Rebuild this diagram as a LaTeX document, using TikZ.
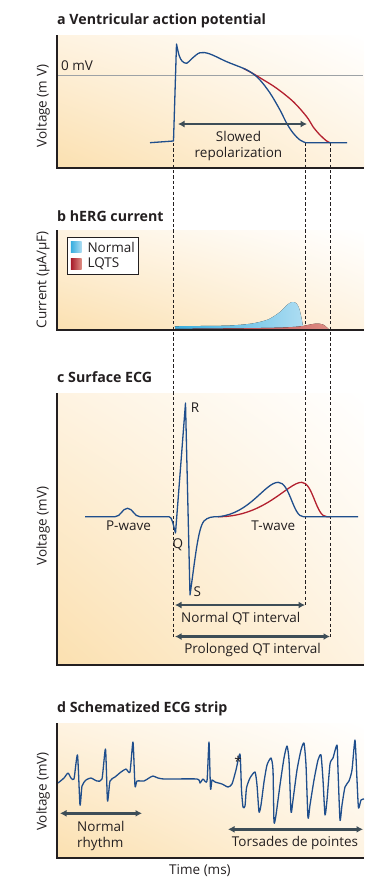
\documentclass[tikz,border=0pt]{standalone}
\usepackage{fontspec}
\setmainfont{Open Sans}
\usetikzlibrary{positioning,arrows.meta,shadings}
\definecolor{traceBlue}{HTML}{1F4E8C}
\definecolor{lqtsRed}{HTML}{B3202F}
\definecolor{arrowSlate}{HTML}{3D4D57}
\definecolor{bgOrange}{HTML}{FBE0B0}
\definecolor{bgCream}{HTML}{FEF3E1}
\definecolor{zeroGray}{HTML}{9DA2A6}
\definecolor{hergBlue}{HTML}{38AEDF}
\definecolor{hergBlueLight}{HTML}{AEDDF2}
\definecolor{hergRed}{HTML}{A81C2A}
\definecolor{hergRedLight}{HTML}{DE8E84}
\definecolor{inkBlack}{HTML}{231F20}
\tikzset{
    panelbg/.style={lower left=bgOrange,upper left=bgCream,lower right=bgCream,upper right=white},
    axisline/.style={draw=inkBlack,line width=1.1pt},
    zeroline/.style={draw=zeroGray,line width=0.8pt},
    trace/.style={draw=traceBlue,line width=1.3pt,line join=round},
    lqtstrace/.style={draw=lqtsRed,line width=1.3pt,line join=round},
    guide/.style={draw=inkBlack,line width=0.7pt,dash pattern=on 3.2pt off 2.2pt},
    dblarrow/.style={{Latex[length=6.5pt,width=7pt]}-{Latex[length=6.5pt,width=7pt]},
        draw=arrowSlate,line width=2.6pt},
    paneltitle/.style={anchor=base west,inner sep=0pt,text=inkBlack,
        font=\fontsize{14.2}{16}\selectfont\bfseries},
    ylabel/.style={rotate=90,inner sep=0pt,text=inkBlack,font=\fontsize{13.5}{16}\selectfont},
    lbl/.style={inner sep=0pt,text=inkBlack,font=\fontsize{13.5}{16}\selectfont},
    legendkey/.style={minimum width=10.7pt,minimum height=11pt,inner sep=0pt}
}
\begin{document}
\begin{tikzpicture}[x=1pt,y=-1pt]
    \useasboundingbox (0,0) rectangle (382,887);

    % backgrounds of the four panels
    \shade[panelbg] (57,35) rectangle (364,168);
    \shade[panelbg] (57,230) rectangle (364,330);
    \shade[panelbg] (57,393) rectangle (364,665);
    \shade[panelbg] (57,723) rectangle (364,858);

    % guide lines shared by a, b and c
    \coordinate (gQtop) at (173.5,143);
    \coordinate (gQbot) at (173.5,637);
    \coordinate (gNtop) at (305.5,143);
    \coordinate (gNbot) at (305.5,605);
    \coordinate (gLtop) at (330,143);
    \coordinate (gLbot) at (330,637);
    \draw[guide] (gQtop) -- (gQbot);
    \draw[guide] (gNtop) -- (gNbot);
    \draw[guide] (gLtop) -- (gLbot);

    % a: action potential
    \node[paneltitle] (titleA) at (57,24) {a Ventricular action potential};
    \node[ylabel] (yA) at (43,106) {Voltage (m V)};
    \draw[zeroline] (57,75) -- (363,75);
    \node[lbl,anchor=base west] (zeroLbl) at (61,70.7) {0 mV};
    \draw[lqtstrace] plot[smooth,tension=0.55] coordinates {(243.3,68.3)(252,73)(262,79)
        (276.7,88.3)(293.3,101.7)(306.7,116.7)(313,126.7)(320,135)(326.7,141)(330,142.7)};
    \draw[trace] (150,142.7) -- (173.5,141) -- (176.5,44) -- plot[smooth,tension=0.55] coordinates {
        (176.5,44)(179,55)(182,61)(186.7,63.3)(192,58.5)(200,52.7)(210,54)(226.7,61.7)
        (243.3,68.3)(252,73)(260,80)(270,93)(280,110)(286.7,123.3)(293.3,133.3)(300,140)
        (305.7,142.7)} -- (347,142.7);
    \draw[axisline] (57,35) -- (57,168) -- (364,168);
    \coordinate (srL) at (178,124);
    \coordinate (srR) at (307,124);
    \draw[dblarrow] (srL) -- (srR);
    \node[lbl,align=center] (srLbl) at (238.5,146) {Slowed\\repolarization};

    % b: hERG current
    \node[paneltitle] (titleB) at (57,221) {b hERG current};
    \node[ylabel] (yB) at (43,280) {Current (µA/µF)};
    \fill[left color=hergBlue,right color=hergBlueLight] (175,330) -- plot[smooth,tension=0.5] coordinates {
        (175,327)(177,326.3)(200,326)(230,325.5)(252,323.5)(268,319.5)(280,312)(287,305)
        (292,302)(296,303)(299,308)(301.5,318)(303.5,330)} -- cycle;
    \fill[left color=hergRed,right color=hergRedLight] (175,330.5) -- plot[smooth,tension=0.5] coordinates {
        (175,328.8)(200,328.7)(240,328.3)(280,327.6)(300,326.4)(310,324.5)(317,323.5)
        (323,324.5)(327,327.5)(330,330.5)} -- cycle;
    \draw[axisline] (57,230) -- (57,330) -- (364,330);
    \node[draw=inkBlack,line width=0.8pt,fill=white,minimum width=71.3pt,minimum height=36.7pt,
        anchor=north west] (legend) at (66.7,237.3) {};
    \node[legendkey,left color=hergBlue,right color=hergBlueLight] (keyNormal) at (76.3,247.3) {};
    \node[legendkey,left color=hergRed,right color=hergRedLight] (keyLqts) at (76.3,263.5) {};
    \node[lbl,right=5.5pt of keyNormal] (txtNormal) {Normal};
    \node[lbl,right=5.5pt of keyLqts] (txtLqts) {LQTS};

    % c: surface ECG
    \node[paneltitle] (titleC) at (57,382.7) {c Surface ECG};
    \node[ylabel] (yC) at (43,526) {Voltage (mV)};
    \draw[lqtstrace] (218,516.7) .. controls (265,517) and (288,482.3) .. (301.7,482.3)
        .. controls (313,482.3) and (316,517) .. (326.7,516.7) -- (330,516.7);
    \draw[trace] (85,516.7) -- (115,516.7)
        .. controls (121,516.7) and (122,508.3) .. (127.5,508.3)
        .. controls (133,508.3) and (134,516.7) .. (140,516.7)
        -- (169,516.7)
        .. controls (172,516.7) and (173,524) .. (175.5,533)
        -- (185.5,403) -- (190,595)
        .. controls (195,560) and (198,528) .. (204,521)
        .. controls (208,517) and (212,516.7) .. (218,516.7)
        .. controls (250,514) and (265,482.3) .. (278.3,482.3)
        .. controls (290,482.3) and (293,517) .. (303.3,516.7) -- (358,516.7);
    \draw[axisline] (57,393) -- (57,665) -- (364,665);
    \node[lbl,anchor=base west] (rLbl) at (190.7,412.7) {R};
    \node[lbl,anchor=base] (qLbl) at (178,548.3) {Q};
    \node[lbl,anchor=base west] (sLbl) at (193.3,596) {S};
    \node[lbl] (pLbl) at (128.5,525.5) {P-wave};
    \node[lbl] (tLbl) at (273.3,525.5) {T-wave};
    \coordinate (nqL) at (175,605);
    \coordinate (nqR) at (305,605);
    \coordinate (pqL) at (175,636.5);
    \coordinate (pqR) at (330,636.5);
    \draw[dblarrow] (nqL) -- (nqR);
    \draw[dblarrow] (pqL) -- (pqR);
    \node[lbl,anchor=base] (nqLbl) at (240.8,622.7) {Normal QT interval};
    \node[lbl,anchor=base] (pqLbl) at (252.5,653.3) {Prolonged QT interval};

    % d: ECG strip
    \node[paneltitle] (titleD) at (57,712.7) {d Schematized ECG strip};
    \node[ylabel] (yD) at (43,791.5) {Voltage (mV)};
    \draw[trace] plot[smooth,tension=0.35] coordinates {
        (58,783)(64,778)(68,773)(71,778)(74,779)(77.5,755)(80,805)(82,786)(86,780)(91,778)
        (97,781)(102,779)(105.5,749)(107.5,801)(110,781)(115,777)(121,772)(126,769)(130,772)
        (133,742)(135,786)(137,781)(144,781)(149,778)(153,776)(158,778)(165,779)(197,779)
        (200,783)(203,779)(207,781)(209,742)(210.5,789)(212,780)(215,782)(222,784)(228,787)
        (232,784)(236,770)(240,754)(241.5,790)(243,807)(245,806)(246.5,788)(250,778)(255,772)
        (257,785)(259,812)(261,805)(264,782)(267,765)(271,758)(273,770)(274,822)(276,815)
        (280,785)(284,758)(287,746)(289,760)(291,812)(293,800)(297,770)(301,750)(304,743)
        (306,765)(308,818)(310,805)(314,780)(318,760)(321,755)(323,780)(325,815)(327,800)
        (330,764)(333,758)(337,745)(338,770)(340,820)(342,805)(345,787)(349,781)(352,770)
        (355,740)(357,780)(358.5,808)(361,800)(364,799)};
    \draw[axisline] (57,723) -- (57,858) -- (364,858);
    \node[lbl] (starLbl) at (238,761) {*};
    \coordinate (nrL) at (60,813.3);
    \coordinate (nrR) at (142,813.3);
    \coordinate (tdpL) at (228,829.3);
    \coordinate (tdpR) at (363,829.3);
    \draw[dblarrow] (nrL) -- (nrR);
    \draw[dblarrow] (tdpL) -- (tdpR);
    \node[lbl,align=left,anchor=west] (nrLbl) at (77,836) {Normal\\rhythm};
    \node[lbl,anchor=base] (tdpLbl) at (295,846.7) {Torsades de pointes};
    \node[lbl] (timeLbl) at (200,871) {Time (ms)};
\end{tikzpicture}
\end{document}
